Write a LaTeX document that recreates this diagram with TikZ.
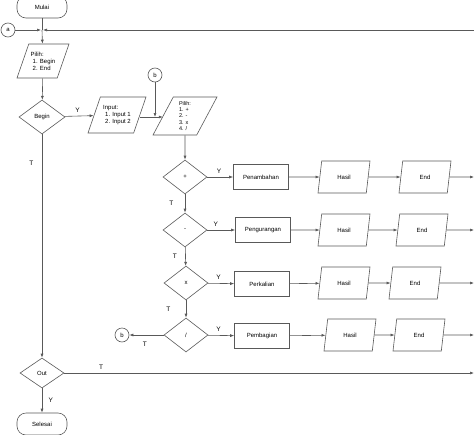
\documentclass[tikz,border=0pt]{standalone}
\usepackage{fontspec}
\setmainfont{Liberation Sans}
\usetikzlibrary{shapes.geometric,arrows.meta}

\tikzset{
  line/.style={draw=black!65,line width=0.6pt},
  arr/.style={line,-{Latex[length=4pt,width=3pt]}},
  terminal/.style={line,rectangle,rounded corners=9pt,minimum width=50pt,minimum height=22pt,inner sep=0pt},
  decision/.style={line,diamond,minimum width=46pt,minimum height=34pt,inner sep=0pt},
  process/.style={line,rectangle,minimum width=55pt,minimum height=25pt,inner sep=0pt},
  io/.style={line,trapezium,trapezium left angle=60,trapezium right angle=120,trapezium stretches body,minimum width=52pt,minimum height=32pt,inner sep=1pt},
  connector/.style={line,circle,minimum size=14pt,inner sep=0pt},
  lbl/.style={font=\fontsize{6.5}{7}\selectfont}
}

\begin{document}
\begin{tikzpicture}[x=1pt,y=-1pt,font=\fontsize{6}{7}\selectfont]
    \useasboundingbox (0,0) rectangle (474,434);

    % start and main menu
    \node[terminal] (mulai) at (42,7) {Mulai};
    \coordinate (jct) at (42,30);
    \coordinate (topright) at (474,30);
    \node[connector] (conA) at (8,30) {a};
    \node[io,align=left,minimum height=34pt] (pilih) at (43,61) {Pilih:\\\hspace{2pt}1. Begin\\\hspace{2pt}2. End};
    \node[decision] (begin) at (42,117) {Begin};

    \draw[line] (mulai) -- (jct);
    \draw[arr] (conA) -- ([xshift=-1pt]jct);
    \draw[arr] (topright) -- ([xshift=1pt]jct);
    \draw[arr] (jct) -- (pilih);
    \draw[arr] (pilih) -- (begin);

    % input and operation menu
    \node[io,align=left,minimum width=58pt,minimum height=36pt] (input) at (117,115) {Input:\\\hspace{2pt}1. Input 1\\\hspace{2pt}2. Input 2};
    \node[connector] (conB) at (155,75) {b};
    \coordinate (jctB) at (155,117);
    \node[io,align=left,trapezium left angle=57,trapezium right angle=123,minimum width=64pt,minimum height=38pt,font=\fontsize{5.5}{6.3}\selectfont] (pilihop) at (185,116) {Pilih:\\1. +\\2. -\\3. x\\4. /};

    \draw[arr] (begin) -- node[lbl,above,pos=0.45] {Y} (input);
    \draw[line] (input.east |- jctB) -- (jctB);
    \draw[arr] (jctB) -- (pilihop.west |- jctB);
    \draw[arr] (conB) -- (jctB);

    % operations
    \node[decision,minimum width=44pt] (tambah) at (185,177) {+};
    \node[process] (penambahan) at (261,177) {Penambahan};
    \node[io] (hasilA) at (344,177) {Hasil};
    \node[io] (endA) at (425,177) {End};
    \coordinate (outA) at (474,177);

    \node[decision,minimum width=44pt] (kurang) at (185,230) {-};
    \node[process] (pengurangan) at (263,230) {Pengurangan};
    \node[io] (hasilB) at (344,230) {Hasil};
    \node[io] (endB) at (422,230) {End};
    \coordinate (outB) at (474,230);

    \node[decision,minimum width=44pt] (kali) at (186,283) {x};
    \node[process] (perkalian) at (262,284) {Perkalian};
    \node[io] (hasilC) at (344,283) {Hasil};
    \node[io] (endC) at (415,283) {End};
    \coordinate (outC) at (474,283);

    \node[decision,minimum width=44pt] (bagi) at (186,335) {/};
    \node[process] (pembagian) at (262,336) {Pembagian};
    \node[io] (hasilD) at (350,335) {Hasil};
    \node[io] (endD) at (419,335) {End};
    \coordinate (outD) at (474,335);
    \node[connector] (conBB) at (122,335) {b};

    \draw[arr] (pilihop) -- (tambah);
    \draw[arr] (tambah) -- node[lbl,above,pos=0.45] {Y} (penambahan);
    \draw[arr] (penambahan) -- (hasilA);
    \draw[arr] (hasilA) -- (endA);
    \draw[arr] (endA) -- (outA);
    \draw[arr] (tambah) -- node[lbl,left=8pt] {T} (kurang);

    \draw[arr] (kurang) -- node[lbl,above,pos=0.3] {Y} (pengurangan);
    \draw[arr] (pengurangan) -- (hasilB);
    \draw[arr] (hasilB) -- (endB);
    \draw[arr] (endB) -- (outB);
    \draw[arr] (kurang) -- node[lbl,left=5pt] {T} (kali);

    \draw[arr] (kali) -- node[lbl,above,pos=0.4] {Y} (perkalian);
    \draw[arr] (perkalian) -- (hasilC);
    \draw[arr] (hasilC) -- (endC);
    \draw[arr] (endC) -- (outC);
    \draw[arr] (kali) -- node[lbl,left=12pt] {T} (bagi);

    \draw[arr] (bagi) -- node[lbl,above,pos=0.4] {Y} (pembagian);
    \draw[arr] (pembagian) -- (hasilD);
    \draw[arr] (hasilD) -- (endD);
    \draw[arr] (endD) -- (outD);
    \draw[arr] (bagi) -- node[lbl,below=3pt,pos=0.55] {T} (conBB);

    % exit
    \node[decision,minimum width=44pt,minimum height=30pt] (out) at (42,373) {Out};
    \node[terminal] (selesai) at (42,424) {Selesai};
    \coordinate (outE) at (474,373);

    \draw[arr] (begin) -- node[lbl,left=5pt,pos=0.13] {T} (out);
    \draw[arr] (out) -- node[lbl,above,pos=0.09] {T} (outE);
    \draw[arr] (out) -- node[lbl,right=3pt] {Y} (selesai);
\end{tikzpicture}
\end{document}
